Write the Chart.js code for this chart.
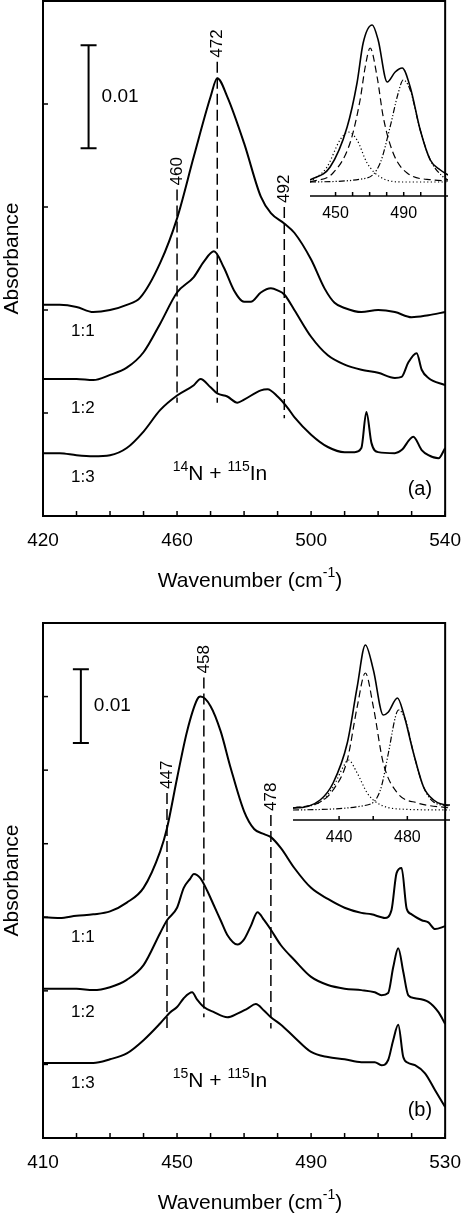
<!DOCTYPE html>
<html><head><meta charset="utf-8">
<script src="https://cdn.jsdelivr.net/npm/chart.js@4"></script>
<style>
body{margin:0;background:#fff;width:474px;height:1215px;position:relative;overflow:hidden}
canvas{position:absolute}
</style></head><body>
<canvas id="mainA" style="left:0;top:0" width="474" height="600"></canvas>
<canvas id="insA" style="left:300px;top:0" width="160" height="230"></canvas>
<canvas id="mainB" style="left:0;top:610px" width="474" height="605"></canvas>
<canvas id="insB" style="left:283px;top:620px" width="177" height="240"></canvas>
<script>
// panel (a): 14N + 115In, absorbance in units of 1e-3
const a11X = [420,425,430,435,440,445,449,455,460,465,470,472,475,480,485,488,492,495,500,504,507,510,515,520,525,530,535,540];
const a11Y = [20.5,20.5,20.3,19.8,20.0,20.5,21.2,24.6,28.9,34.9,40.7,42.5,40.7,36.2,31.0,29.4,28.4,27.5,24.9,22.1,20.7,20.2,19.8,20.0,19.8,19.3,19.5,19.8];
const a12X = [420,430,435,440,445,450,455,460,465,468,471,474,477,480,482,485,488,490,492,495,500,505,510,515,520,525,527,529,531.5,533,535,540];
const a12Y = [13.3,13.3,13.2,13.7,14.4,15.9,18.7,21.7,23.2,24.7,25.7,24.1,21.9,20.8,20.8,21.7,22.1,21.9,21.5,20.0,17.4,15.6,14.7,14.2,13.9,13.4,13.5,14.9,15.8,14.2,13.4,12.7];
const a13X = [420,425,430,435,440,445,450,455,460,465,467,470,472,475,478,480,485,487,490,493,495,500,505,510,513,515,516.5,518,520,525,527,530.5,533,535,538,540];
const a13Y = [6.1,6.1,5.9,5.8,5.9,6.6,8.2,10.3,11.7,12.7,13.3,12.5,11.9,11.6,11.0,11.3,12.2,12.3,11.6,10.5,9.6,7.9,6.7,6.2,6.2,6.6,10.1,7.1,6.2,6.1,6.4,7.7,6.4,5.9,5.6,6.6];
const aMarks = [460, 472, 492];
const aMarkTop = [31.7, 44.1, 30.0];
const aMarkBottom = [11.0, 11.0, 9.5];

// inset (a): fit of the 1:1 band
const iaTotX = [435,446.8,456.8,462.6,466.2,471.5,475,480.3,485,489.1,493.8,499.7,505.6,511.5,516];
const iaTotY = [16,29,69,113,153,171,156,114,124,128,109,66,36,26,21];
const iaDashX = [435,448.5,458.5,464.4,467.4,470.3,474.4,478,483.8,492,507.4,516];
const iaDashY = [14,23,53,96,129,148,119,79,43,23,16,15];
const iaDotX = [435,445,452.6,457.4,462.6,468.5,476.2,490,516];
const iaDotY = [14,29,56,64,56,33,19,14,14];
const iaDdX = [435,468.5,476.2,482,486.8,489.7,493.8,499.7,505.6,513.2,516];
const iaDdY = [14,18,33,69,103,116,106,66,36,19,16];

// panel (b): 15N + 115In
const b11X = [410,415,420,425,430,435,440,445,447,450,453,456,457,460,463,466,470,473,476,478,481,485,490,495,500,505,508,511,512,514,515.5,517,518.5,520,523,525,527,530];
const b11Y = [30.0,29.9,30.2,30.4,30.8,32.0,34.0,39.0,42.1,48.9,55.3,59.6,60.0,58.7,55.3,50.3,44.4,42.0,41.3,40.9,39.4,36.7,34.0,32.5,31.3,30.6,30.4,30.0,29.9,31.0,36.0,36.7,31.2,30.4,29.6,29.3,28.4,28.8];
const b12X = [410,415,420,425,430,435,440,445,447,450,452,454,455,457,459,461,463,465,468,470,472,474,476,478,481,485,490,495,500,505,509,511,513,514.5,516,517.5,519,521,525,528,530];
const b12Y = [20.3,20.3,20.3,20.1,20.5,21.5,23.5,27.9,29.6,31.3,34.0,35.3,35.9,35.3,33.6,31.6,29.6,27.6,26.3,27.0,28.8,30.7,29.6,28.3,26.2,24.2,21.9,20.8,20.3,20.1,19.8,19.4,19.7,23.2,25.8,22.6,19.4,19.0,18.5,17.1,15.5];
const b13X = [410,415,420,425,430,435,440,445,448,450,452,454.5,456,458,461,465,468,471,473.5,476,478,481,485,490,495,500,505,509,511,513,514.5,516,517.5,519,521,524,527,530];
const b13Y = [10.2,10.2,10.2,10.2,10.7,11.5,13.3,15.6,17.1,17.8,19.0,19.8,18.8,17.8,17.1,16.4,16.9,17.6,18.2,17.3,16.4,15.4,13.7,11.7,11.0,10.7,10.3,10.3,9.9,10.6,13.3,15.4,11.0,10.2,9.9,8.8,6.5,4.2];
const bMarks = [447, 458, 478];
const bMarkTop = [46.9, 62.6, 43.9];
const bMarkBottom = [14.9, 16.4, 14.9];

// inset (b)
const ibTotX = [413,414.2,428.9,436.5,444.8,450.6,455.4,460.1,465.9,468.9,474.2,477.7,483.6,489.5,495.4,504.2,505];
const ibTotY = [12,12,20,37,77,133,175,150,105,108,122,107,67,33,20,15,15];
const ibDashX = [413,428.9,436.5,444.8,450.6,455.4,460.1,465.9,474.2,486,505];
const ibDashY = [12,18,30,60,113,147,113,57,27,17,12];
const ibDotX = [413,428.9,436.5,442.4,445.4,450.6,456.5,462.4,475,505];
const ibDotY = [12,18,33,53,60,47,27,17,11,10];
const ibDdX = [413,456.5,464.2,468.9,473,474.8,478.9,483.6,489.5,495.4,505];
const ibDdY = [10,15,30,67,103,110,100,67,33,18,14];

const ratioLabels = ['1:1', '1:2', '1:3'];

const FONT = '"Liberation Sans", Arial, sans-serif';
const pts = (xs, ys) => xs.map((x, i) => ({x: x, y: ys[i]}));

function spectrum(xs, ys) {
  return {data: pts(xs, ys), borderColor: '#000', borderWidth: 2, pointRadius: 0, cubicInterpolationMode: 'monotone', fill: false};
}
function markLines(marks, tops, bottoms) {
  return marks.map((m, i) => ({data: [{x: m, y: tops[i]}, {x: m, y: bottoms[i]}], borderColor: '#000', borderWidth: 1.5, borderDash: [11, 5], pointRadius: 0}));
}
function fitLine(xs, ys, dash, w) {
  return {data: pts(xs, ys), borderColor: '#000', borderWidth: w, borderDash: dash, pointRadius: 0, cubicInterpolationMode: 'monotone', fill: false};
}

function drawSup(ctx, parts, x, y) {
  // parts: [text, isSup]
  let total = 0;
  parts.forEach(p => { ctx.font = (p[1] ? '14px ' : '21px ') + FONT; total += ctx.measureText(p[0]).width; });
  let cx = x - total / 2;
  ctx.textAlign = 'left';
  parts.forEach(p => {
    ctx.font = (p[1] ? '14px ' : '21px ') + FONT;
    ctx.fillText(p[0], cx, p[1] ? y - 9 : y);
    cx += ctx.measureText(p[0]).width;
  });
}

// frame, inward ticks, scale bar and text for the main panels
const panelPlugin = {
  id: 'panel',
  afterDraw(chart) {
    const o = chart.options.plugins.panel;
    const ctx = chart.ctx, a = chart.chartArea, xs = chart.scales.x, ys = chart.scales.y;
    ctx.save();
    ctx.strokeStyle = '#000'; ctx.fillStyle = '#000';
    ctx.lineWidth = 2;
    ctx.strokeRect(a.left, a.top, a.right - a.left, a.bottom - a.top);
    ctx.lineWidth = 1.5;
    xs.ticks.forEach(t => { const px = xs.getPixelForValue(t.value); ctx.beginPath(); ctx.moveTo(px, a.bottom); ctx.lineTo(px, a.bottom - 5); ctx.stroke(); });
    ys.ticks.forEach(t => { const py = ys.getPixelForValue(t.value); ctx.beginPath(); ctx.moveTo(a.left, py); ctx.lineTo(a.left + 5, py); ctx.stroke(); });
    // scale bar 0.01
    const bx = xs.getPixelForValue(o.barX), bt = ys.getPixelForValue(o.barTop), bb = ys.getPixelForValue(o.barTop - 10);
    ctx.lineWidth = 2;
    ctx.beginPath(); ctx.moveTo(bx, bt); ctx.lineTo(bx, bb);
    ctx.moveTo(bx - 8, bt); ctx.lineTo(bx + 8, bt); ctx.moveTo(bx - 8, bb); ctx.lineTo(bx + 8, bb); ctx.stroke();
    ctx.font = '19px ' + FONT; ctx.textAlign = 'left'; ctx.textBaseline = 'middle';
    ctx.fillText('0.01', bx + 13, (bt + bb) / 2);
    // peak labels, rotated
    o.marks.forEach((m, i) => {
      ctx.save();
      ctx.translate(xs.getPixelForValue(m), ys.getPixelForValue(o.markTop[i]) - 4);
      ctx.rotate(-Math.PI / 2);
      ctx.font = '17px ' + FONT; ctx.textAlign = 'left'; ctx.textBaseline = 'middle';
      ctx.fillText(String(m), 0, 0);
      ctx.restore();
    });
    // ratio labels
    ctx.font = '17px ' + FONT; ctx.textAlign = 'left'; ctx.textBaseline = 'middle';
    ratioLabels.forEach((r, i) => ctx.fillText(r, 71, o.ratioY[i]));
    ctx.textBaseline = 'alphabetic';
    drawSup(ctx, o.title, 220, o.titleY);
    ctx.font = '20px ' + FONT; ctx.textAlign = 'right'; ctx.textBaseline = 'middle';
    ctx.fillText(o.tag, a.right - 13, o.tagY);
    // x axis title with superscript
    ctx.textAlign = 'left'; ctx.textBaseline = 'alphabetic';
    const base = 'Wavenumber (cm', ty = a.bottom + 71;
    ctx.font = '21px ' + FONT;
    const w1 = ctx.measureText(base).width;
    ctx.font = '14px ' + FONT;
    const w2 = ctx.measureText('-1').width;
    ctx.font = '21px ' + FONT;
    const w3 = ctx.measureText(')').width;
    let sx = 250 - (w1 + w2 + w3) / 2;
    ctx.fillText(base, sx, ty);
    ctx.font = '14px ' + FONT; ctx.fillText('-1', sx + w1, ty - 10);
    ctx.font = '21px ' + FONT; ctx.fillText(')', sx + w1 + w2, ty);
    ctx.restore();
  }
};

const insetPlugin = {
  id: 'inset',
  afterDraw(chart) {
    if (!chart.options.plugins.inset) return;
    const ctx = chart.ctx, a = chart.chartArea, xs = chart.scales.x, step = chart.options.plugins.inset.step;
    ctx.save();
    ctx.strokeStyle = '#000'; ctx.lineWidth = 1.5;
    ctx.beginPath(); ctx.moveTo(a.left, a.bottom); ctx.lineTo(a.right, a.bottom); ctx.stroke();
    xs.ticks.forEach(t => {
      if (t.value % step !== 0) return;
      const px = xs.getPixelForValue(t.value);
      ctx.beginPath(); ctx.moveTo(px, a.bottom); ctx.lineTo(px, a.bottom - 4); ctx.stroke();
    });
    ctx.restore();
  }
};

function mainChart(id, series, marks, tops, bottoms, xmin, xmax, ymax, padTop, xH, extra) {
  return new Chart(document.getElementById(id), {
    type: 'line',
    data: {datasets: series.map(s => spectrum(s[0], s[1])).concat(markLines(marks, tops, bottoms))},
    options: {
      responsive: false, animation: false,
      layout: {padding: {top: padTop, right: 17, left: 0, bottom: 0}},
      plugins: {legend: {display: false}, tooltip: {enabled: false}, panel: extra},
      scales: {
        x: {type: 'linear', min: xmin, max: xmax, border: {display: false},
            grid: {display: false, drawTicks: false},
            ticks: {stepSize: 10, autoSkip: false, maxRotation: 0, padding: 13, color: '#000', font: {family: FONT, size: 19},
                    callback: v => ((v - xmin) % 40 === 0 ? String(v) : '')},
            afterFit: s => { s.height = xH; }},
        y: {min: 0, max: ymax, border: {display: false}, grid: {display: false, drawTicks: false},
            ticks: {display: false, stepSize: 10},
            title: {display: true, text: 'Absorbance', color: '#000', font: {family: FONT, size: 21}, padding: {top: 0, bottom: 0}},
            afterFit: s => { s.width = 43; }}
      }
    },
    plugins: [panelPlugin]
  });
}

function insetChart(id, lines, xmin, xmax, step, labels, padTop, padR, xH) {
  return new Chart(document.getElementById(id), {
    type: 'line',
    data: {datasets: [
      fitLine(lines[0][0], lines[0][1], [], 1.6),
      fitLine(lines[1][0], lines[1][1], [7, 4], 1.2),
      fitLine(lines[2][0], lines[2][1], [1.2, 2.4], 1.2),
      fitLine(lines[3][0], lines[3][1], [6, 2, 1.2, 2, 1.2, 2], 1.2)
    ]},
    options: {
      responsive: false, animation: false,
      layout: {padding: {top: padTop, right: padR, left: 10, bottom: 0}},
      plugins: {legend: {display: false}, tooltip: {enabled: false}, inset: {step: step}},
      scales: {
        x: {type: 'linear', min: xmin, max: xmax, border: {display: false},
            grid: {display: false, drawTicks: false},
            ticks: {stepSize: 10, autoSkip: false, maxRotation: 0, padding: 8, color: '#000', font: {family: FONT, size: 16},
                    callback: v => (labels.includes(v) ? String(v) : '')},
            afterFit: s => { s.height = xH; }},
        y: {display: false, min: 0, max: 190}
      }
    },
    plugins: [insetPlugin]
  });
}

mainChart('mainA', [[a11X, a11Y], [a12X, a12Y], [a13X, a13Y]], aMarks, aMarkTop, aMarkBottom, 420, 540, 50, 1, 84,
  {marks: aMarks, markTop: aMarkTop, barX: 433.6, barTop: 45.7, ratioY: [331, 408, 477],
   title: [['14', true], ['N + ', false], ['115', true], ['In', false]], titleY: 480, tag: '(a)', tagY: 489});
insetChart('insA', [[iaTotX, iaTotY], [iaDashX, iaDashY], [iaDotX, iaDotY], [iaDdX, iaDdY]], 435, 516, 10, [450, 490], 6, 12, 34);

mainChart('mainB', [[b11X, b11Y], [b12X, b12Y], [b13X, b13Y]], bMarks, bMarkTop, bMarkBottom, 410, 530, 70, 13, 77,
  {marks: bMarks, markTop: bMarkTop, barX: 421.3, barTop: 63.7, ratioY: [327, 402, 473],
   title: [['15', true], ['N + ', false], ['115', true], ['In', false]], titleY: 477, tag: '(b)', tagY: 500});
insetChart('insB', [[ibTotX, ibTotY], [ibDashX, ibDashY], [ibDotX, ibDotY], [ibDdX, ibDdY]], 413, 505, 20, [440, 480], 10, 10, 40);
</script>
</body></html>
